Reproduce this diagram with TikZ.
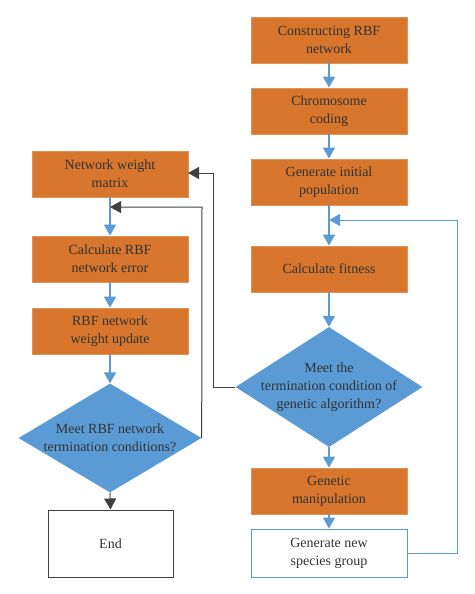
\documentclass[tikz,border=0pt]{standalone}
\usepackage{fontspec}
\setmainfont{Liberation Serif}
\usetikzlibrary{arrows.meta,shapes.geometric}
\definecolor{orbox}{HTML}{D7762C}
\definecolor{blline}{HTML}{5B9BD5}
\definecolor{bldia}{HTML}{5B9BD5}
\definecolor{dkline}{HTML}{404040}
\definecolor{txt}{HTML}{333333}
\tikzset{
  obox/.style={draw=orbox!80!white, line width=0.8pt, fill=orbox, minimum width=156pt, minimum height=46pt, inner sep=0pt, align=center, text=txt, font=\fontsize{14}{18}\selectfont},
  dia/.style={diamond, fill=bldia, draw=none, inner sep=0pt},
  diatxt/.style={align=center, text=txt, font=\fontsize{14}{18}\selectfont},
  barrow/.style={draw=blline, line width=1.4pt, -{Triangle[width=12pt,length=11pt]}},
  karrow/.style={draw=dkline, line width=1pt, -{Triangle[width=12pt,length=11pt]}, color=dkline},
}
\begin{document}
\begin{tikzpicture}[x=1pt,y=-1pt]
\useasboundingbox (0,0) rectangle (474,594);
% right column
\node[obox] (crbf) at (329,40) {Constructing RBF\\network};
\node[obox] (chrom) at (329,111) {Chromosome\\coding};
\node[obox] (gip) at (329,182) {Generate initial\\population};
\node[obox] (fit) at (329,269) {Calculate fitness};
\node[dia, minimum width=187pt, minimum height=120pt] (rdia) at (329,387) {};
\node[diatxt] (rdiat) at (329,387) {Meet the\\termination condition of\\genetic algorithm?};
\node[obox] (gm) at (329,491) {Genetic\\manipulation};
\node[obox, fill=white, draw=blline, line width=1pt, minimum height=48pt] (gns) at (329,553) {Generate new\\species group};
% left column
\node[obox] (nwm) at (110,174) {Network weight\\matrix};
\node[obox] (calc) at (110,259) {Calculate RBF\\network error};
\node[obox] (upd) at (110,331) {RBF network\\weight update};
\node[dia, minimum width=183pt, minimum height=109pt] (ldia) at (110,438) {};
\node[diatxt] (ldiat) at (110,438) {Meet RBF network\\termination conditions?};
\node[draw=dkline, line width=1pt, fill=white, minimum width=125pt, minimum height=67pt, text=txt, font=\fontsize{14}{18}\selectfont] (endn) at (110.5,543.5) {End};
% coordinates
\coordinate (loopin) at (329,220);
\coordinate (loopr1) at (457,553);
\coordinate (loopr2) at (457,220);
\coordinate (k1) at (213,387);
\coordinate (k2) at (213,173);
\coordinate (k3) at (188,173);
\coordinate (m1) at (202,207);
\coordinate (m2) at (110,207);
% right arrows
\draw[barrow] (crbf.south) -- (chrom.north);
\draw[barrow] (chrom.south) -- (gip.north);
\draw[barrow] (gip.south) -- (fit.north);
\draw[barrow] (fit.south) -- (rdia.north);
\draw[barrow] (rdia.south) -- (gm.north);
\draw[barrow] (gm.south) -- (gns.north);
\draw[barrow, line width=1pt] (gns.east) -- (loopr1) -- (loopr2) -- (loopin);
% left arrows
\draw[barrow] (nwm.south) -- (calc.north);
\draw[barrow] (calc.south) -- (upd.north);
\draw[barrow] (upd.south) -- (ldia.north);
\draw[karrow] (ldia.south) -- (endn.north);
\draw[karrow] (rdia.west) -- (k1) -- (k2) -- (k3);
\draw[karrow] (ldia.east) -- (m1) -- (m2);
\end{tikzpicture}
\end{document}
